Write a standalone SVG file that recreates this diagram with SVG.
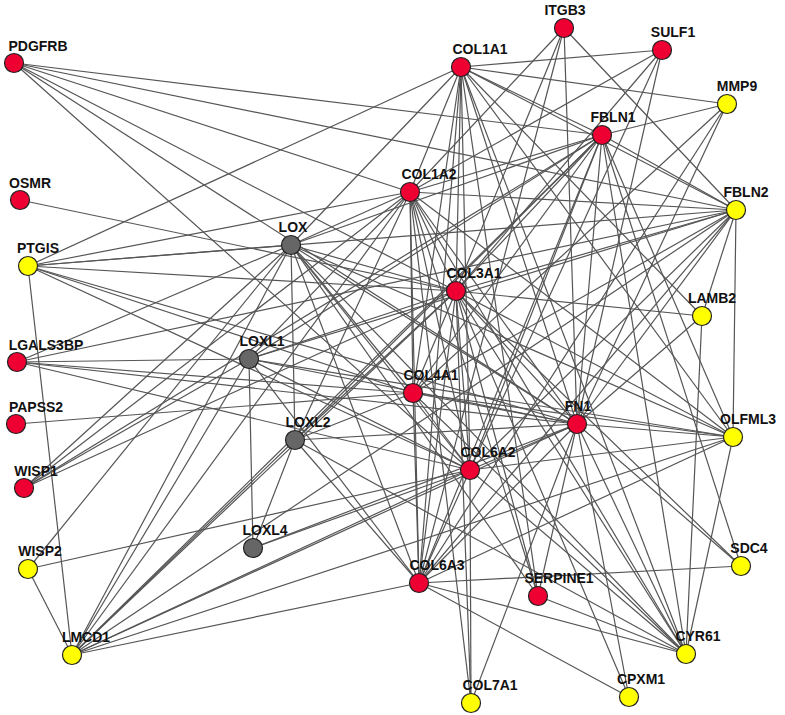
<svg xmlns="http://www.w3.org/2000/svg" width="785" height="715" viewBox="0 0 785 715">
<style>
.e line{stroke:#555;stroke-width:1.2}
.n circle{stroke:#222;stroke-width:1.2}
.r{fill:#ee0033}.y{fill:#ffff00}.g{fill:#666}
text{font-family:"Liberation Sans",Arial,sans-serif;font-size:14px;font-weight:bold;fill:#111;text-anchor:middle}
</style>
<rect width="785" height="715" fill="#fff"/>
<g class="e">
<line x1="14" y1="63" x2="602" y2="135"/><line x1="14" y1="63" x2="736" y2="210"/><line x1="14" y1="63" x2="410" y2="192"/><line x1="14" y1="63" x2="456" y2="291"/><line x1="14" y1="63" x2="577" y2="424"/><line x1="14" y1="63" x2="470" y2="470"/>
<line x1="20" y1="200" x2="456" y2="291"/>
<line x1="28" y1="266" x2="461" y2="67"/><line x1="28" y1="266" x2="291" y2="245"/><line x1="28" y1="266" x2="410" y2="192"/><line x1="28" y1="266" x2="456" y2="291"/><line x1="28" y1="266" x2="736" y2="210"/><line x1="28" y1="266" x2="577" y2="424"/><line x1="28" y1="266" x2="470" y2="470"/><line x1="28" y1="266" x2="72" y2="655"/><line x1="28" y1="266" x2="413" y2="393"/>
<line x1="17" y1="362" x2="249" y2="359"/><line x1="17" y1="362" x2="291" y2="245"/><line x1="17" y1="362" x2="577" y2="424"/><line x1="17" y1="362" x2="413" y2="393"/><line x1="17" y1="362" x2="470" y2="470"/><line x1="17" y1="362" x2="736" y2="210"/>
<line x1="16" y1="424" x2="413" y2="393"/>
<line x1="24" y1="488" x2="291" y2="245"/><line x1="24" y1="488" x2="249" y2="359"/><line x1="24" y1="488" x2="410" y2="192"/><line x1="24" y1="488" x2="456" y2="291"/><line x1="24" y1="488" x2="602" y2="135"/>
<line x1="28" y1="569" x2="72" y2="655"/><line x1="28" y1="569" x2="470" y2="470"/><line x1="28" y1="569" x2="291" y2="245"/>
<line x1="72" y1="655" x2="249" y2="359"/><line x1="72" y1="655" x2="291" y2="245"/><line x1="72" y1="655" x2="295" y2="440"/><line x1="72" y1="655" x2="410" y2="192"/><line x1="72" y1="655" x2="456" y2="291"/><line x1="72" y1="655" x2="470" y2="470"/><line x1="72" y1="655" x2="577" y2="424"/><line x1="72" y1="655" x2="733" y2="437"/><line x1="72" y1="655" x2="419" y2="583"/><line x1="72" y1="655" x2="736" y2="210"/><line x1="72" y1="655" x2="602" y2="135"/>
<line x1="291" y1="245" x2="461" y2="67"/><line x1="291" y1="245" x2="410" y2="192"/><line x1="291" y1="245" x2="456" y2="291"/><line x1="291" y1="245" x2="602" y2="135"/><line x1="291" y1="245" x2="577" y2="424"/><line x1="291" y1="245" x2="413" y2="393"/><line x1="291" y1="245" x2="470" y2="470"/><line x1="291" y1="245" x2="419" y2="583"/><line x1="291" y1="245" x2="295" y2="440"/><line x1="291" y1="245" x2="538" y2="596"/><line x1="291" y1="245" x2="733" y2="437"/><line x1="291" y1="245" x2="686" y2="654"/>
<line x1="249" y1="359" x2="410" y2="192"/><line x1="249" y1="359" x2="456" y2="291"/><line x1="249" y1="359" x2="736" y2="210"/><line x1="249" y1="359" x2="253" y2="548"/><line x1="249" y1="359" x2="577" y2="424"/><line x1="249" y1="359" x2="470" y2="470"/><line x1="249" y1="359" x2="419" y2="583"/><line x1="249" y1="359" x2="602" y2="135"/><line x1="249" y1="359" x2="733" y2="437"/>
<line x1="295" y1="440" x2="410" y2="192"/><line x1="295" y1="440" x2="456" y2="291"/><line x1="295" y1="440" x2="577" y2="424"/><line x1="295" y1="440" x2="253" y2="548"/><line x1="295" y1="440" x2="419" y2="583"/><line x1="295" y1="440" x2="686" y2="654"/><line x1="295" y1="440" x2="602" y2="135"/><line x1="295" y1="440" x2="413" y2="393"/>
<line x1="253" y1="548" x2="470" y2="470"/><line x1="253" y1="548" x2="577" y2="424"/>
<line x1="461" y1="67" x2="662" y2="50"/><line x1="461" y1="67" x2="727" y2="104"/><line x1="461" y1="67" x2="602" y2="135"/><line x1="461" y1="67" x2="410" y2="192"/><line x1="461" y1="67" x2="456" y2="291"/><line x1="461" y1="67" x2="413" y2="393"/><line x1="461" y1="67" x2="470" y2="470"/><line x1="461" y1="67" x2="419" y2="583"/><line x1="461" y1="67" x2="577" y2="424"/><line x1="461" y1="67" x2="736" y2="210"/><line x1="461" y1="67" x2="702" y2="316"/><line x1="461" y1="67" x2="538" y2="596"/><line x1="461" y1="67" x2="686" y2="654"/><line x1="461" y1="67" x2="733" y2="437"/>
<line x1="564" y1="28" x2="410" y2="192"/><line x1="564" y1="28" x2="456" y2="291"/><line x1="564" y1="28" x2="577" y2="424"/><line x1="564" y1="28" x2="736" y2="210"/><line x1="564" y1="28" x2="419" y2="583"/>
<line x1="662" y1="50" x2="410" y2="192"/><line x1="662" y1="50" x2="577" y2="424"/><line x1="662" y1="50" x2="456" y2="291"/><line x1="662" y1="50" x2="470" y2="470"/>
<line x1="727" y1="104" x2="602" y2="135"/><line x1="727" y1="104" x2="577" y2="424"/><line x1="727" y1="104" x2="419" y2="583"/><line x1="727" y1="104" x2="413" y2="393"/>
<line x1="602" y1="135" x2="410" y2="192"/><line x1="602" y1="135" x2="456" y2="291"/><line x1="602" y1="135" x2="577" y2="424"/><line x1="602" y1="135" x2="413" y2="393"/><line x1="602" y1="135" x2="470" y2="470"/><line x1="602" y1="135" x2="419" y2="583"/><line x1="602" y1="135" x2="736" y2="210"/><line x1="602" y1="135" x2="686" y2="654"/><line x1="602" y1="135" x2="741" y2="566"/><line x1="602" y1="135" x2="733" y2="437"/>
<line x1="736" y1="210" x2="410" y2="192"/><line x1="736" y1="210" x2="456" y2="291"/><line x1="736" y1="210" x2="577" y2="424"/><line x1="736" y1="210" x2="413" y2="393"/><line x1="736" y1="210" x2="470" y2="470"/><line x1="736" y1="210" x2="733" y2="437"/><line x1="736" y1="210" x2="702" y2="316"/><line x1="736" y1="210" x2="419" y2="583"/>
<line x1="410" y1="192" x2="456" y2="291"/><line x1="410" y1="192" x2="413" y2="393"/><line x1="410" y1="192" x2="470" y2="470"/><line x1="410" y1="192" x2="419" y2="583"/><line x1="410" y1="192" x2="577" y2="424"/><line x1="410" y1="192" x2="538" y2="596"/><line x1="410" y1="192" x2="686" y2="654"/><line x1="410" y1="192" x2="471" y2="703"/><line x1="410" y1="192" x2="733" y2="437"/>
<line x1="456" y1="291" x2="413" y2="393"/><line x1="456" y1="291" x2="470" y2="470"/><line x1="456" y1="291" x2="419" y2="583"/><line x1="456" y1="291" x2="577" y2="424"/><line x1="456" y1="291" x2="538" y2="596"/><line x1="456" y1="291" x2="686" y2="654"/><line x1="456" y1="291" x2="629" y2="697"/><line x1="456" y1="291" x2="471" y2="703"/><line x1="456" y1="291" x2="733" y2="437"/><line x1="456" y1="291" x2="741" y2="566"/><line x1="456" y1="291" x2="702" y2="316"/>
<line x1="413" y1="393" x2="577" y2="424"/><line x1="413" y1="393" x2="470" y2="470"/><line x1="413" y1="393" x2="419" y2="583"/><line x1="413" y1="393" x2="733" y2="437"/><line x1="413" y1="393" x2="686" y2="654"/>
<line x1="577" y1="424" x2="470" y2="470"/><line x1="577" y1="424" x2="419" y2="583"/><line x1="577" y1="424" x2="538" y2="596"/><line x1="577" y1="424" x2="733" y2="437"/><line x1="577" y1="424" x2="741" y2="566"/><line x1="577" y1="424" x2="686" y2="654"/><line x1="577" y1="424" x2="629" y2="697"/><line x1="577" y1="424" x2="471" y2="703"/><line x1="577" y1="424" x2="702" y2="316"/>
<line x1="470" y1="470" x2="419" y2="583"/><line x1="470" y1="470" x2="733" y2="437"/><line x1="470" y1="470" x2="686" y2="654"/><line x1="470" y1="470" x2="471" y2="703"/>
<line x1="419" y1="583" x2="741" y2="566"/><line x1="419" y1="583" x2="686" y2="654"/><line x1="419" y1="583" x2="629" y2="697"/><line x1="419" y1="583" x2="733" y2="437"/>
<line x1="538" y1="596" x2="686" y2="654"/><line x1="733" y1="437" x2="686" y2="654"/><line x1="702" y1="316" x2="686" y2="654"/>
</g>
<g id="PDGFRB" class="n"><circle class="r" cx="14" cy="63" r="9.5"/><text x="38" y="51">PDGFRB</text></g>
<g id="OSMR" class="n"><circle class="r" cx="20" cy="200" r="9.5"/><text x="30" y="188">OSMR</text></g>
<g id="PTGIS" class="n"><circle class="y" cx="28" cy="266" r="9.5"/><text x="38" y="253">PTGIS</text></g>
<g id="LGALS3BP" class="n"><circle class="r" cx="17" cy="362" r="9.5"/><text x="46" y="350">LGALS3BP</text></g>
<g id="PAPSS2" class="n"><circle class="r" cx="16" cy="424" r="9.5"/><text x="36" y="412">PAPSS2</text></g>
<g id="WISP1" class="n"><circle class="r" cx="24" cy="488" r="9.5"/><text x="36" y="476">WISP1</text></g>
<g id="WISP2" class="n"><circle class="y" cx="28" cy="569" r="9.5"/><text x="40" y="556">WISP2</text></g>
<g id="LMCD1" class="n"><circle class="y" cx="72" cy="655" r="9.5"/><text x="86" y="642">LMCD1</text></g>
<g id="LOX" class="n"><circle class="g" cx="291" cy="245" r="9.5"/><text x="293" y="232">LOX</text></g>
<g id="LOXL1" class="n"><circle class="g" cx="249" cy="359" r="9.5"/><text x="262" y="346">LOXL1</text></g>
<g id="LOXL2" class="n"><circle class="g" cx="295" cy="440" r="9.5"/><text x="308" y="427">LOXL2</text></g>
<g id="LOXL4" class="n"><circle class="g" cx="253" cy="548" r="9.5"/><text x="265" y="535">LOXL4</text></g>
<g id="ITGB3" class="n"><circle class="r" cx="564" cy="28" r="9.5"/><text x="565" y="15">ITGB3</text></g>
<g id="SULF1" class="n"><circle class="r" cx="662" cy="50" r="9.5"/><text x="673" y="37">SULF1</text></g>
<g id="COL1A1" class="n"><circle class="r" cx="461" cy="67" r="9.5"/><text x="480" y="54">COL1A1</text></g>
<g id="MMP9" class="n"><circle class="y" cx="727" cy="104" r="9.5"/><text x="737" y="91">MMP9</text></g>
<g id="FBLN1" class="n"><circle class="r" cx="602" cy="135" r="9.5"/><text x="613" y="122">FBLN1</text></g>
<g id="COL1A2" class="n"><circle class="r" cx="410" cy="192" r="9.5"/><text x="429" y="179">COL1A2</text></g>
<g id="FBLN2" class="n"><circle class="y" cx="736" cy="210" r="9.5"/><text x="746" y="197">FBLN2</text></g>
<g id="COL3A1" class="n"><circle class="r" cx="456" cy="291" r="9.5"/><text x="474" y="278">COL3A1</text></g>
<g id="LAMB2" class="n"><circle class="y" cx="702" cy="316" r="9.5"/><text x="712" y="303">LAMB2</text></g>
<g id="COL4A1" class="n"><circle class="r" cx="413" cy="393" r="9.5"/><text x="431" y="380">COL4A1</text></g>
<g id="FN1" class="n"><circle class="r" cx="577" cy="424" r="9.5"/><text x="578" y="411">FN1</text></g>
<g id="OLFML3" class="n"><circle class="y" cx="733" cy="437" r="9.5"/><text x="748" y="424">OLFML3</text></g>
<g id="COL6A2" class="n"><circle class="r" cx="470" cy="470" r="9.5"/><text x="488" y="457">COL6A2</text></g>
<g id="SDC4" class="n"><circle class="y" cx="741" cy="566" r="9.5"/><text x="749" y="553">SDC4</text></g>
<g id="COL6A3" class="n"><circle class="r" cx="419" cy="583" r="9.5"/><text x="437" y="570">COL6A3</text></g>
<g id="SERPINE1" class="n"><circle class="r" cx="538" cy="596" r="9.5"/><text x="559" y="583">SERPINE1</text></g>
<g id="CYR61" class="n"><circle class="y" cx="686" cy="654" r="9.5"/><text x="698" y="641">CYR61</text></g>
<g id="COL7A1" class="n"><circle class="y" cx="471" cy="703" r="9.5"/><text x="490" y="690">COL7A1</text></g>
<g id="CPXM1" class="n"><circle class="y" cx="629" cy="697" r="9.5"/><text x="641" y="684">CPXM1</text></g>
</svg>
